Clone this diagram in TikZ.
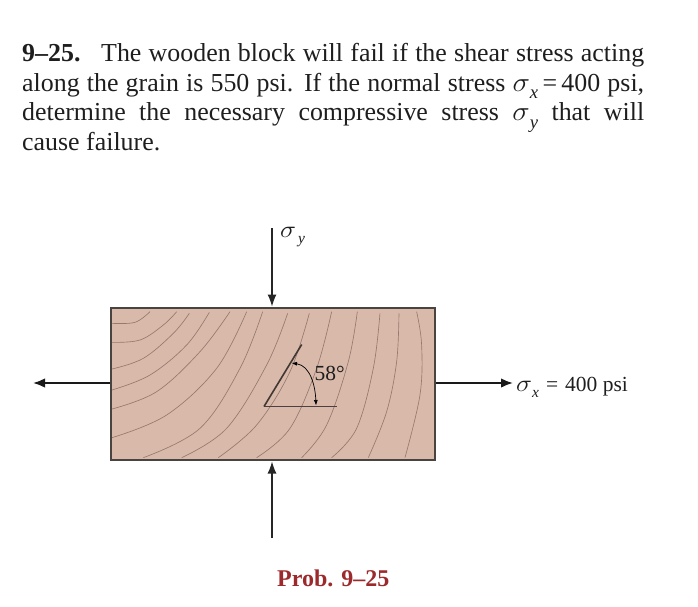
\documentclass[tikz,border=0pt]{standalone}
\usepackage{fontspec}
\setmainfont{Liberation Serif}
\usetikzlibrary{arrows.meta}
\definecolor{wood}{HTML}{D9B9AA}
\definecolor{grain}{HTML}{957A6D}
\definecolor{blockedge}{HTML}{4A4440}
\definecolor{probred}{HTML}{9C2A2C}
\definecolor{inkc}{HTML}{1E1E1E}
\newcommand{\sig}{\scalebox{1.3}[1.15]{$\sigma$}}
\newcommand{\sigb}{\scalebox{1.18}[1.1]{$\sigma$}}
\newcommand{\subx}[1]{\raisebox{-0.3em}{\scalebox{0.72}{\textit{#1}}}}
\tikzset{
  x=1pt,y=-1pt,
  bodyline/.style={anchor=base west,inner sep=0pt,font=\fontsize{25.9}{28}\selectfont,text=inkc},
  figlabel/.style={inner sep=0pt,font=\fontsize{21.5}{24}\selectfont,text=inkc},
  force/.style={line width=1.2pt,black!85,-{Latex[length=12pt,width=9pt]}},
  forcebold/.style={line width=1.8pt,black!90,-{Latex[length=12pt,width=9.5pt]}},
  grainline/.style={grain,line width=0.65pt},
  anglearm/.style={draw=#1,line width=1.6pt},
  blockbox/.style={draw=blockedge,fill=wood,line width=1.1pt,minimum width=324pt,minimum height=151pt,inner sep=0pt},
}
\begin{document}
\begin{tikzpicture}
\useasboundingbox (0,0) rectangle (698,606);
\node[bodyline] (l1) at (22,61) {\makebox[622pt][s]{\textbf{9–25.}\hspace{0.8em}The wooden block will fail if the shear stress acting}};
\node[bodyline] (l2) at (22,91) {\makebox[622pt][s]{along the grain is 550 psi. If the normal stress \sigb\subx{x}\,=\,400 psi,}};
\node[bodyline] (l3) at (22,120.5) {\makebox[622pt][s]{determine the necessary compressive stress \sigb\subx{y} that will}};
\node[bodyline] (l4) at (22,150) {cause failure.};

\node[blockbox] (block) at (273,384) {};
\begin{scope}[shift={(100,295)},x=0.3333pt,y=-0.3333pt]
\foreach \c in {
 {(36,85)(105,82)(150,50)},
 {(36,142)(120,135)(190,90)(230,50)},
 {(36,222)(130,190)(220,115)(268,55)},
 {(36,285)(150,240)(260,150)(328,52)},
 {(36,342)(170,290)(300,170)(390,50)},
 {(36,428)(200,360)(350,220)(440,50)},
 {(130,488)(300,400)(420,220)(488,50)},
 {(245,488)(380,400)(500,210)(563,55)},
 {(355,488)(470,390)(570,230)(628,55)},
 {(470,488)(570,400)(650,220)(695,50)},
 {(605,488)(680,390)(745,200)(772,50)},
 {(695,488)(770,400)(820,220)(840,55)},
 {(805,488)(860,350)(890,200)(897,55)},
 {(915,488)(960,300)(965,150)(950,50)}}
 {\draw[grainline] plot[smooth,tension=0.6] coordinates {\c};}
\end{scope}
\draw[blockedge,line width=1.1pt] (block.north west) rectangle (block.south east);

\coordinate (O) at (264,406.5);
\coordinate (H) at (336.7,406.5);
\coordinate (S) at (301.7,344.5);
\draw[anglearm=black!65!wood] (O) -- (H);
\draw[anglearm=black!70!wood] (O) -- (S);
\draw[line width=0.7pt,black,{Latex[length=5.5pt,width=4pt]}-{Latex[length=5.5pt,width=4pt]}] (291.5,363) to[out=-8,in=92] (316,405.5);
\node[figlabel,anchor=base west] (ang) at (314.5,380) {58°};

\coordinate (tA) at (272,228);
\coordinate (tB) at (272,306.5);
\coordinate (bA) at (272,538);
\coordinate (bB) at (272,461.5);
\draw[force] (tA) -- (tB);
\draw[force] (bA) -- (bB);
\coordinate (lA) at (111,383);
\coordinate (lB) at (33,383);
\coordinate (rA) at (435,383);
\coordinate (rB) at (513,383);
\draw[forcebold] (block.west |- lA) -- (lB);
\draw[forcebold] (block.east |- rA) -- (rB);

\node[figlabel,anchor=base west] (sy) at (280,237) {\sig\hspace{2pt}\subx{y}};
\node[figlabel,anchor=base west] (sx) at (516,391) {\sig\subx{x}\hspace{7pt}=\hspace{7pt}400 psi};
\node[inner sep=0pt,anchor=base west,text=probred,font=\fontsize{24}{26}\selectfont\bfseries] (cap) at (277,586) {Prob. 9–25};
\end{tikzpicture}
\end{document}
